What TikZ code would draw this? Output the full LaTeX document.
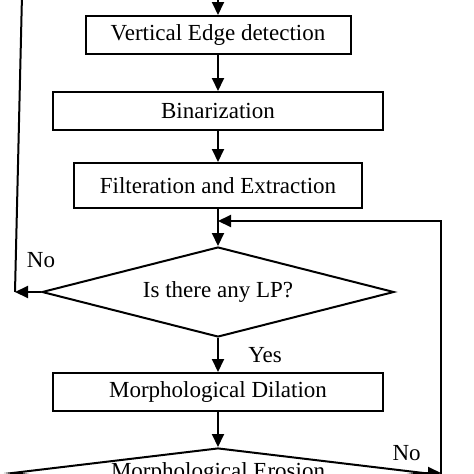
\documentclass[tikz,border=0pt]{standalone}
\usepackage{fontspec}
\setmainfont{Liberation Serif}
\usetikzlibrary{shapes.geometric,arrows.meta,positioning}

\begin{document}
\begin{tikzpicture}[
  >={Triangle[length=13pt,width=12pt]}, line width=2pt,
  every node/.style={font=\fontsize{23}{27}\selectfont},
  block/.style={rectangle, draw, minimum height=38pt, inner sep=0pt},
  decision/.style={diamond, draw, aspect=4, inner sep=0pt}
]
\useasboundingbox (0,0) rectangle (474pt,-474pt);
\clip (0,0) rectangle (474pt,-474pt);
\fill[white] (0,0) rectangle (474pt,-474pt);

\node[block, minimum width=265pt] (vedge) at (218pt,-35pt) {Vertical Edge detection};
\node[block, minimum width=330pt, below=36pt of vedge] (binar) {Binarization};
\node[block, minimum width=288pt, minimum height=45pt, below=31pt of binar] (filt) {Filteration and Extraction};
\node[decision, minimum width=352pt, minimum height=90pt, below=37pt of filt] (lpq) {Is there any LP?};
\node[block, minimum width=330pt, below=34pt of lpq] (dilat) {Morphological Dilation};
\node[decision, minimum width=412pt, minimum height=50pt, aspect=8, below=35pt of dilat] (erosion) {Morphological Erosion};

% loose ends of the feedback lines (cut off by the frame)
\coordinate (intop) at (218pt,5pt);
\coordinate (ltop) at (22pt,5pt);
\coordinate (lx) at (15pt,0);
\coordinate (lbot) at (lpq.west -| lx);
\coordinate (rx) at (441pt,0);
\coordinate (rbot) at (441pt,-480pt);
\coordinate (rcorner) at (441pt,-221pt);

\draw[->] (intop) -- (vedge);
\draw[->] (vedge) -- (binar);
\draw[->] (binar) -- (filt);
\draw[->] (filt) -- (lpq);
\draw[->] (lpq) -- node[right=26pt] {Yes} (dilat);
\draw[->] (dilat) -- (erosion);
\draw[->] (lpq.west) -- node[pos=0, above=20pt] {No} (lbot);
\draw (lbot) -- (ltop);
\draw[->] (erosion.east) -- node[pos=0, above left=8pt and 0pt] {No} (erosion.east -| rx);
\draw[->] (rbot) -- (rcorner) -- (rcorner -| filt.south);
\end{tikzpicture}
\end{document}
